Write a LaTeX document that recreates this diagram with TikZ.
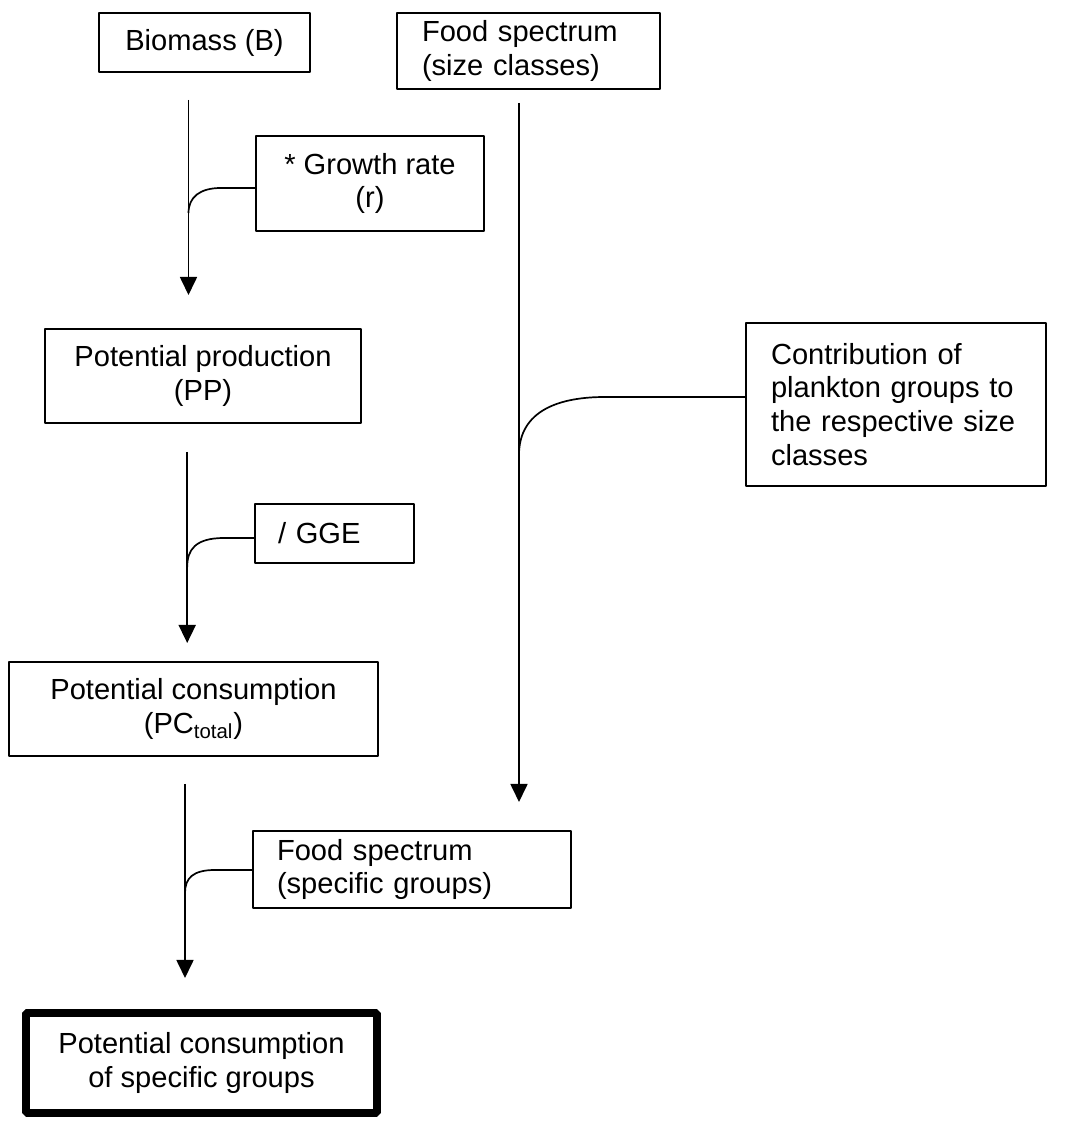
\documentclass[tikz,border=0pt]{standalone}
\usepackage{fontspec}
\setmainfont{Liberation Sans}
\usetikzlibrary{arrows.meta}
\begin{document}
\begin{tikzpicture}[>={Triangle[length=9bp,width=8.5bp]},line join=bevel,
  font=\fontsize{14.6}{17}\selectfont,
  box/.style={draw,line width=0.9bp,inner sep=0pt,align=center},
  lbox/.style={draw,line width=0.9bp,inner ysep=0pt,align=left},
  link/.style={black,line width=0.85bp},]
\useasboundingbox (0bp,0bp) rectangle (537.5bp,561.5bp);
%%
\node (node_biomass) at (102.25bp,540.25bp) [box,minimum width=105.5bp,minimum height=29.5bp] {Biomass (B)};
  \node (node_sizecls) at (264.25bp,536bp) [lbox,text width=106.5bp,inner xsep=12.5bp,minimum height=38bp] {Food spectrum\\(size classes)};
  \node (node_growth) at (185bp,469.75bp) [box,minimum width=114bp,minimum height=47.5bp] {* Growth rate\\(r)};
  \node (node_pp) at (101.5bp,373.5bp) [box,minimum width=158bp,minimum height=47bp] {Potential production\\(PP)};
  \node (node_gge) at (167.25bp,294.75bp) [lbox,text width=56.5bp,inner xsep=11.5bp,minimum height=29.5bp] {/ GGE};
  \node (node_pc) at (96.75bp,207bp) [box,minimum width=184.5bp,minimum height=47bp] {Potential consumption\\(PC\textsubscript{total})};
  \node (node_specific) at (206bp,126.75bp) [lbox,text width=135bp,inner xsep=12bp,minimum height=38.5bp] {Food spectrum\\(specific groups)};
  \node (node_final) at (100.75bp,30bp) [box,line width=4bp,minimum width=175.5bp,minimum height=50bp] {Potential consumption\\of specific groups};
  \node (node_contrib) at (448bp,359.25bp) [lbox,text width=125bp,inner xsep=12.5bp,minimum height=81.5bp] {Contribution of\\plankton groups to\\the respective size\\classes};
%
\coordinate (a1_top) at (94.25bp,511.5bp);
  \coordinate (a1_tip) at (94.25bp,414bp);
  \coordinate (j_growth) at (94.25bp,455bp);
  \coordinate (a2_top) at (93.6bp,335.5bp);
  \coordinate (a2_tip) at (93.6bp,240bp);
  \coordinate (j_gge) at (93.6bp,278bp);
  \coordinate (a3_top) at (92.5bp,169.5bp);
  \coordinate (a3_tip) at (92.5bp,72.5bp);
  \coordinate (j_specific) at (92.5bp,115bp);
  \coordinate (a4_top) at (259.5bp,510bp);
  \coordinate (a4_tip) at (259.5bp,160.5bp);
  \coordinate (j_contrib) at (259.5bp,334bp);
%
\draw [link,->] (a1_top) -- (a1_tip);
  \draw [link,->] (a2_top) -- (a2_tip);
  \draw [link,->] (a3_top) -- (a3_tip);
  \draw [link,->] (a4_top) -- (a4_tip);
  \draw [link] ([yshift=-2.25bp]node_growth.west) -- (110.5bp,467.5bp) ..controls (100bp,467.5bp) and (94.25bp,463bp)  .. (j_growth);
  \draw [link] ([yshift=-2.25bp]node_gge.west) -- (112bp,292.5bp) ..controls (97.5bp,292.5bp) and (93.6bp,286.5bp)  .. (j_gge);
  \draw [link] ([yshift=-0.25bp]node_specific.west) -- (107.5bp,126.5bp) ..controls (96.5bp,126.5bp) and (92.5bp,122.5bp)  .. (j_specific);
  \draw [link] ([yshift=3.75bp]node_contrib.west) -- (302.5bp,363bp) ..controls (280bp,363bp) and (259.5bp,356.5bp)  .. (j_contrib);
%
\end{tikzpicture}
\end{document}
